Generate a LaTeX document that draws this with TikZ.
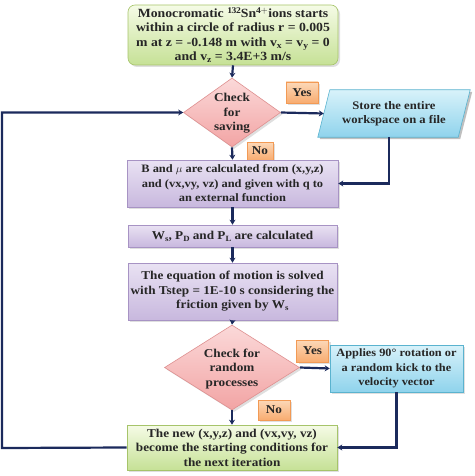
\documentclass[tikz,border=0pt]{standalone}
\usepackage{fontspec}
\setmainfont{Liberation Serif}[FakeStretch=1.1]
\usetikzlibrary{shapes.geometric,shadows,arrows.meta,calc}
\definecolor{navy}{HTML}{1B2A5C}
\definecolor{txt}{HTML}{262626}
\definecolor{gtop}{HTML}{F5FBE6}
\definecolor{gbot}{HTML}{C6E196}
\definecolor{gbrd}{HTML}{A6C46A}
\definecolor{ptop}{HTML}{E9E2F3}
\definecolor{pbot}{HTML}{C8B8DE}
\definecolor{pbrd}{HTML}{A793C4}
\definecolor{ctop}{HTML}{D8F2FA}
\definecolor{cbot}{HTML}{8FD3EC}
\definecolor{cbrd}{HTML}{5AB3CF}
\definecolor{rtop}{HTML}{FBD9D9}
\definecolor{rbot}{HTML}{F2A4A4}
\definecolor{rbrd}{HTML}{DE9090}
\definecolor{otop}{HTML}{FCD8B8}
\definecolor{obot}{HTML}{F8AC70}
\definecolor{obrd}{HTML}{F29A55}
\tikzset{
  fsz/.style={font=\fontsize{#1}{14.5}\selectfont\bfseries},
  base/.style={align=center, fsz=12, text=txt, inner sep=1pt,
    drop shadow={shadow xshift=2pt, shadow yshift=-2pt, opacity=0.25}},
  greenbox/.style={base, rounded corners=7pt, draw=gbrd, line width=0.6pt,
    top color=gtop, bottom color=gbot},
  purplebox/.style={base, draw=pbrd, line width=0.6pt,
    top color=ptop, bottom color=pbot},
  cyanbox/.style={base, draw=cbrd, line width=0.6pt,
    top color=ctop, bottom color=cbot},
  dia/.style={diamond, inner sep=0pt, draw=rbrd, line width=0.6pt,
    top color=rtop, bottom color=rbot,
    drop shadow={shadow xshift=2pt, shadow yshift=-2pt, opacity=0.25}},
  dtext/.style={align=center, fsz=12, text=txt, inner sep=0pt},
  tag/.style={base, draw=obrd, line width=0.6pt, top color=otop, bottom color=obot},
  conn/.style={draw=navy, line width=2.2pt, -{Stealth[length=5pt,width=6pt]}}
}
\begin{document}
\begin{tikzpicture}[x=1pt,y=-1pt]
\useasboundingbox (0,0) rectangle (474,476);
% boxes
\node[greenbox, fsz=12.5, minimum width=210pt, minimum height=60pt] (top) at (233,35)
 {Monocromatic $^{\mathbf{132}}$Sn$^{\mathbf{4+}}$ions starts\\within a circle of radius r = 0.005\\m at z = -0.148 m with v$_{\mathbf{x}}$ = v$_{\mathbf{y}}$ = 0\\and v$_{\mathbf{z}}$ = 3.4E+3 m/s};
\node[dia, minimum width=97pt, minimum height=69pt] (d1) at (232,112.5) {};
\node[dtext] (d1t) at (232,113.5) {Check\\for\\saving};
% store parallelogram
\node[inner sep=0pt, minimum width=140pt, minimum height=47pt] (store) at (394,113.5) {};
\fill[black, opacity=0.25] ($(store.north west)+(8,2)$) -- ($(store.north east)+(8,2)$) -- ($(store.south east)+(-4,2)$) -- ($(store.south west)+(-4,2)$) -- cycle;
\path[draw=cbrd, line width=0.6pt, top color=ctop, bottom color=cbot]
 ($(store.north west)+(6,0)$) -- ($(store.north east)+(6,0)$) -- ($(store.south east)+(-6,0)$) -- ($(store.south west)+(-6,0)$) -- cycle;
\node[dtext, fsz=11.5] (storet) at (store) {Store the entire\\workspace on a file};
\node[tag, minimum width=32pt, minimum height=21pt] (yes1) at (302,92.5) {Yes};
\node[tag, minimum width=26pt, minimum height=18pt] (no1) at (260,151) {No};
\node[purplebox, fsz=11.3, minimum width=211pt, minimum height=47pt] (bbox) at (232.5,183.5)
 {B and $\mu$ are calculated from (x,y,z)\\and (vx,vy, vz) and given with q to\\an external function};
\node[purplebox, minimum width=209pt, minimum height=22pt] (wbox) at (232.5,236)
 {W$_{\mathbf{s}}$, P$_{\mathbf{D}}$ and P$_{\mathbf{L}}$ are calculated};
\node[purplebox, minimum width=209pt, minimum height=57pt] (eq) at (232.5,291.5)
 {The equation of motion is solved\\with Tstep = 1E-10 s considering the\\friction given by W$_{\mathbf{s}}$};
\node[dia, minimum width=135pt, minimum height=85pt] (d2) at (232,367.5) {};
\node[dtext] (d2t) at (232,369) {Check for\\random\\processes};
\node[tag, minimum width=32pt, minimum height=22pt] (yes2) at (312.5,351) {Yes};
\node[cyanbox, fsz=11.2, minimum width=133pt, minimum height=47pt] (app) at (396.5,368.5)
 {Applies 90° rotation or\\a random kick to the\\velocity vector};
\node[tag, minimum width=32pt, minimum height=20pt] (no2) at (274,410) {No};
\node[greenbox, rounded corners=0pt, minimum width=210pt, minimum height=45pt] (new) at (232,447.5)
 {The new (x,y,z) and (vx,vy, vz)\\become the starting conditions for\\the next iteration};
% connectors
\coordinate (loopbl) at (2,448);
\coordinate (looptl) at (2,112.5);
\coordinate (storeout) at ($(store.south)+(-5,0)$);
\coordinate (appout) at (app.south);
\draw[conn] (top.south) -- (d1.north);
\draw[conn] (d1.east) -- (store.west);
\draw[conn] (d1.south) -- (bbox.north);
\draw[conn] (storeout) |- (bbox.east);
\draw[conn] (bbox.south) -- (wbox.north);
\draw[conn] (wbox.south) -- (eq.north);
\draw[conn] (eq.south) -- (d2.north);
\draw[conn] (d2.east) -- (app.west);
\draw[conn] (d2.south) -- (new.north);
\draw[conn] (appout) |- (new.east);
\draw[conn] (new.west) -- (loopbl) -- (looptl) -- (d1.west);
\end{tikzpicture}
\end{document}
